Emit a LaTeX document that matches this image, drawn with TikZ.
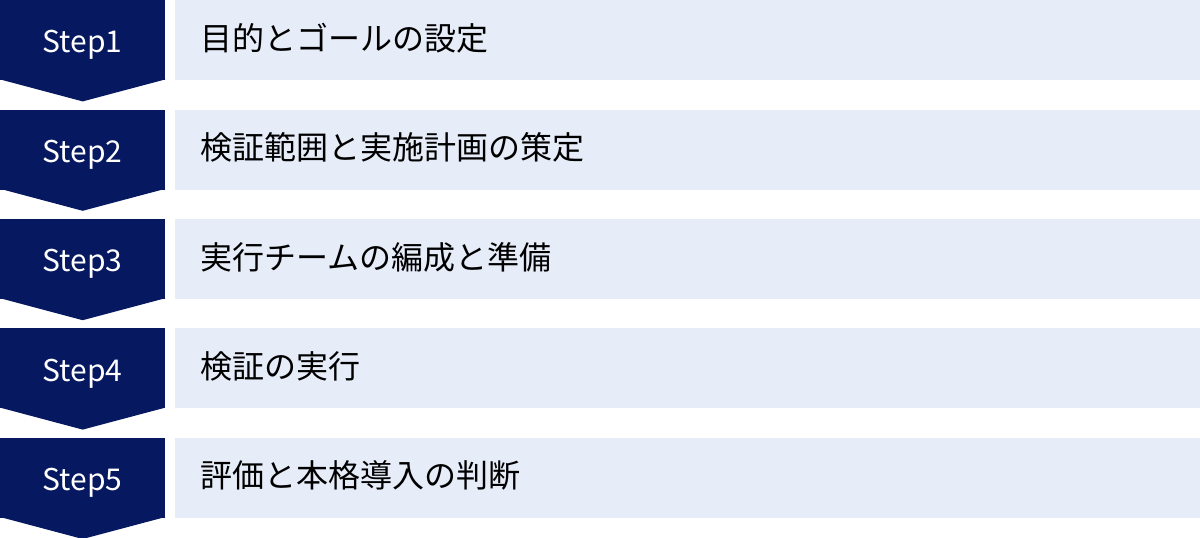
\documentclass[tikz,border=0pt]{standalone}
\usepackage{fontspec}
\setmainfont{Noto Sans CJK JP}
\usepackage{tikz}
\usetikzlibrary{positioning}

\definecolor{stepnavy}{HTML}{06185F}
\definecolor{barblue}{HTML}{E6ECF8}

\tikzset{
  stepbox/.style={fill=stepnavy, text=white, minimum width=165pt, minimum height=80pt,
    inner sep=0pt, text height=25.4pt, text depth=0pt,
    font=\fontsize{30}{34}\selectfont, anchor=north west},
  barbox/.style={fill=barblue, minimum width=1026pt, minimum height=80pt,
    inner xsep=26pt, inner ysep=0pt, text width=974pt, align=left,
    text height=20pt, text depth=0pt,
    font=\fontsize{32}{38}\selectfont, right=9pt of #1},
  stepdown/.style={fill=stepnavy}
}

\begin{document}
\begin{tikzpicture}[node distance=29pt]
  \useasboundingbox (0,0) rectangle (1200pt,-538pt);

  % Define nodes
  \node[stepbox] at (0,0) (s1) {Step1};
  \node[stepbox, below=of s1] (s2) {Step2};
  \node[stepbox, below=of s2] (s3) {Step3};
  \node[stepbox, below=of s3] (s4) {Step4};
  \node[stepbox, below=of s4] (s5) {Step5};

  \node[barbox=s1] (b1) {目的とゴールの設定};
  \node[barbox=s2] (b2) {検証範囲と実施計画の策定};
  \node[barbox=s3] (b3) {実行チームの編成と準備};
  \node[barbox=s4] (b4) {検証の実行};
  \node[barbox=s5] (b5) {評価と本格導入の判断};

  % Arrow tips
  \fill[stepdown] ([yshift=1pt]s1.south west) -- ([yshift=1pt]s1.south east) -- ([yshift=-21pt]s1.south) -- cycle;
  \fill[stepdown] ([yshift=1pt]s2.south west) -- ([yshift=1pt]s2.south east) -- ([yshift=-21pt]s2.south) -- cycle;
  \fill[stepdown] ([yshift=1pt]s3.south west) -- ([yshift=1pt]s3.south east) -- ([yshift=-21pt]s3.south) -- cycle;
  \fill[stepdown] ([yshift=1pt]s4.south west) -- ([yshift=1pt]s4.south east) -- ([yshift=-21pt]s4.south) -- cycle;
  \fill[stepdown] ([yshift=1pt]s5.south west) -- ([yshift=1pt]s5.south east) -- ([yshift=-21pt]s5.south) -- cycle;

\end{tikzpicture}
\end{document}
